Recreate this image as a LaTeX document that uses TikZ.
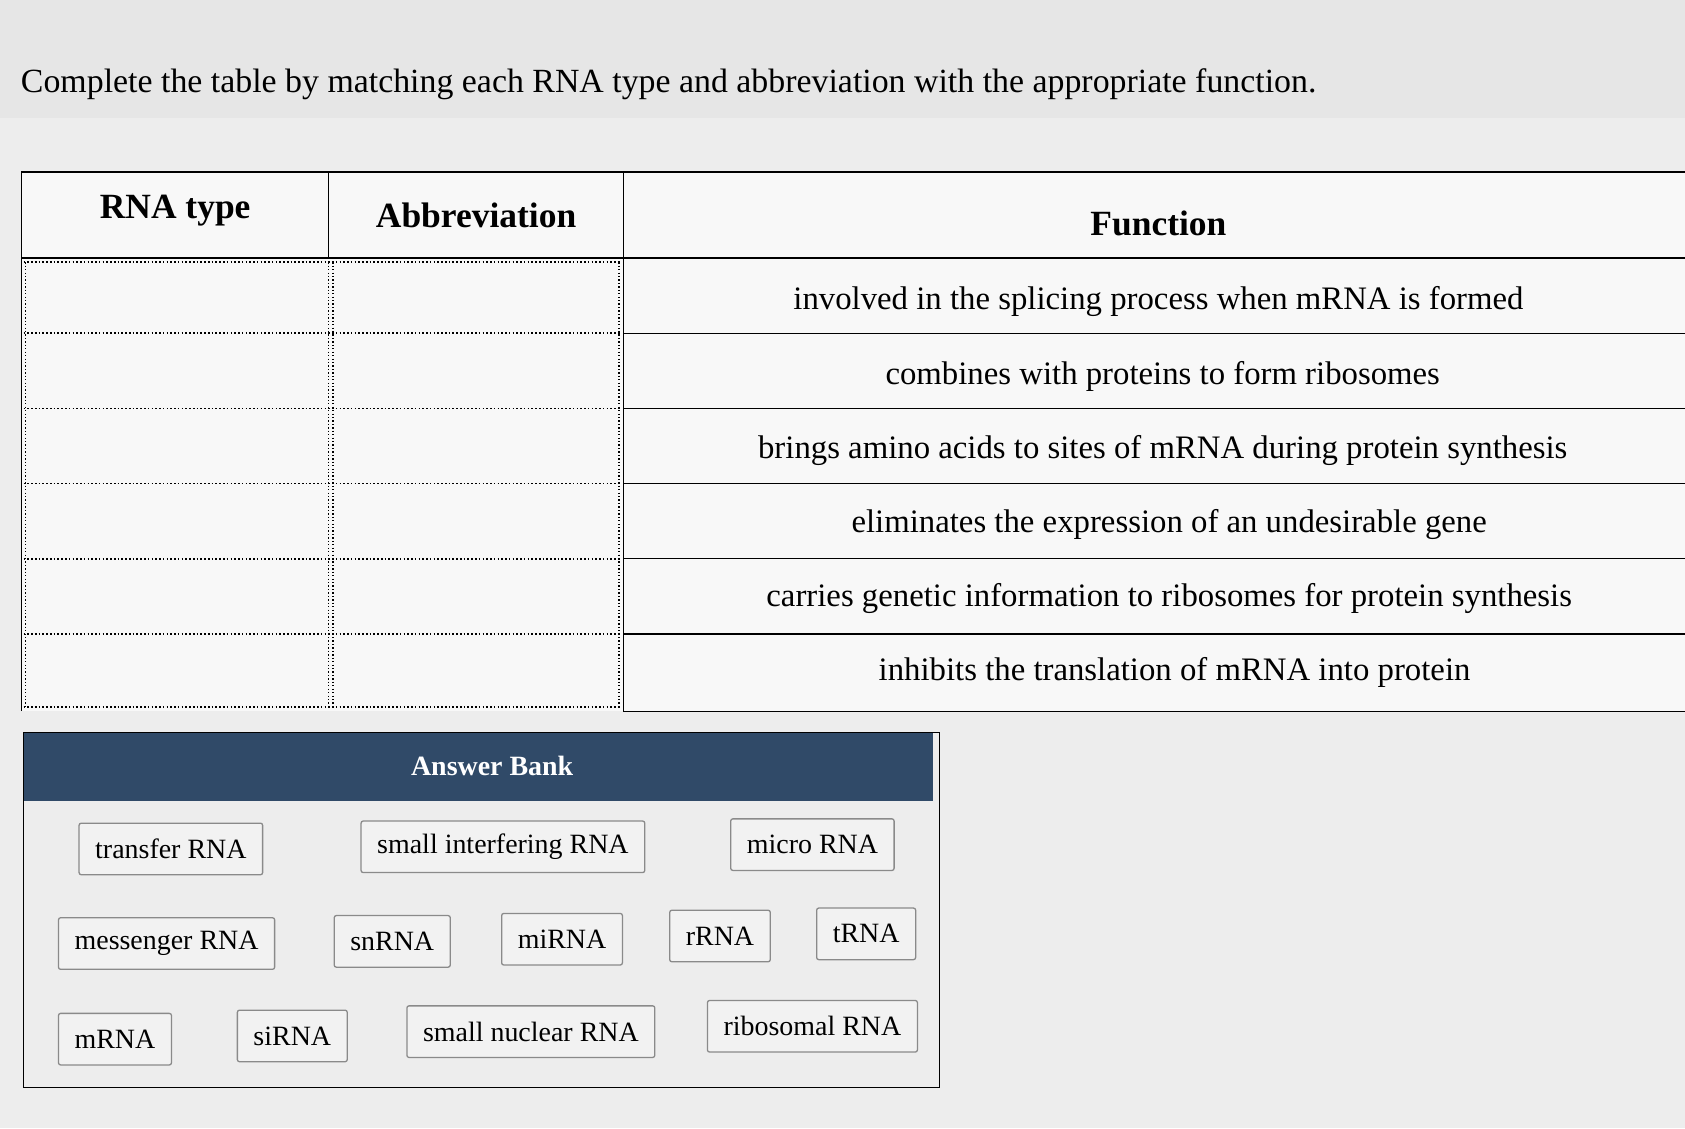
\documentclass[tikz,border=0pt]{standalone}
\usepackage{fontspec}
\setmainfont{Liberation Serif}
\definecolor{bg}{HTML}{E6E6E6}
\definecolor{panel}{HTML}{EDEDED}
\definecolor{hdr}{HTML}{304A68}
\definecolor{btn}{HTML}{F2F2F2}
\definecolor{btnb}{HTML}{8A8A8A}
\begin{document}
\begin{tikzpicture}[x=1pt,y=-1pt,
  cell/.style={font=\fontsize{30.5}{34}\selectfont},
  hcell/.style={font=\fontsize{33}{36}\selectfont\bfseries},
  ans/.style={draw=btnb,fill=btn,rounded corners=2pt,line width=1.2pt,font=\fontsize{26}{30}\selectfont,inner xsep=15pt,minimum height=48pt}]
\fill[bg] (0,0) rectangle (1568,1050);
\useasboundingbox (0,0) rectangle (1568,1050);
\fill[panel] (0,110) rectangle (1568,1050);
\node[anchor=west,font=\fontsize{31.5}{36}\selectfont] (title) at (16,78) {Complete the table by matching each RNA type and abbreviation with the appropriate function.};
% table
\fill[white!60!panel] (20,160) rectangle (1568,662);
\draw[line width=1.2pt] (20,160) -- (1568,160) (20,160) -- (20,662) (306,160) -- (306,240) (580,160) -- (580,662) (20,240) -- (1568,240) (580,662) -- (1568,662);
\foreach \y in {310,380,450,520,590} \draw[line width=1pt] (580,\y) -- (1568,\y);
\foreach \y in {244,310,380,450,520,590,658} \draw[dotted,line width=1.5pt] (22,\y) -- (578,\y);
\foreach \x in {24,306,310,576} \draw[dotted,line width=1.2pt] (\x,244) -- (\x,658);
\node[hcell] (h1) at (163,196) {RNA type};
\node[hcell] (h2) at (443,200) {Abbreviation};
\node[hcell] (h3) at (1078,208) {Function};
\node[cell] (f1) at (1078,281) {involved in the splicing process when mRNA is formed};
\node[cell] (f2) at (1082,350) {combines with proteins to form ribosomes};
\node[cell] (f3) at (1082,419) {brings amino acids to sites of mRNA during protein synthesis};
\node[cell] (f4) at (1088,488) {eliminates the expression of an undesirable gene};
\node[cell] (f5) at (1088,557) {carries genetic information to ribosomes for protein synthesis};
\node[cell] (f6) at (1093,626) {inhibits the translation of mRNA into protein};
% answer bank
\draw[line width=1pt,fill=panel] (22,682) rectangle (874,1012);
\fill[hdr] (22,682) rectangle (868,745);
\node[font=\fontsize{26}{30}\selectfont\bfseries,text=white] (ab) at (458,713) {Answer Bank};
\node[ans] (a1) at (159,790) {transfer RNA};
\node[ans] (a2) at (468,788) {small interfering RNA};
\node[ans] (a3) at (756,786) {micro RNA};
\node[ans] (b1) at (155,878) {messenger RNA};
\node[ans] (b2) at (365,876) {snRNA};
\node[ans] (b3) at (523,874) {miRNA};
\node[ans] (b4) at (670,871) {rRNA};
\node[ans] (b5) at (806,869) {tRNA};
\node[ans] (c1) at (107,967) {mRNA};
\node[ans] (c2) at (272,964) {siRNA};
\node[ans] (c3) at (494,960) {small nuclear RNA};
\node[ans] (c4) at (756,955) {ribosomal RNA};
\end{tikzpicture}
\end{document}
